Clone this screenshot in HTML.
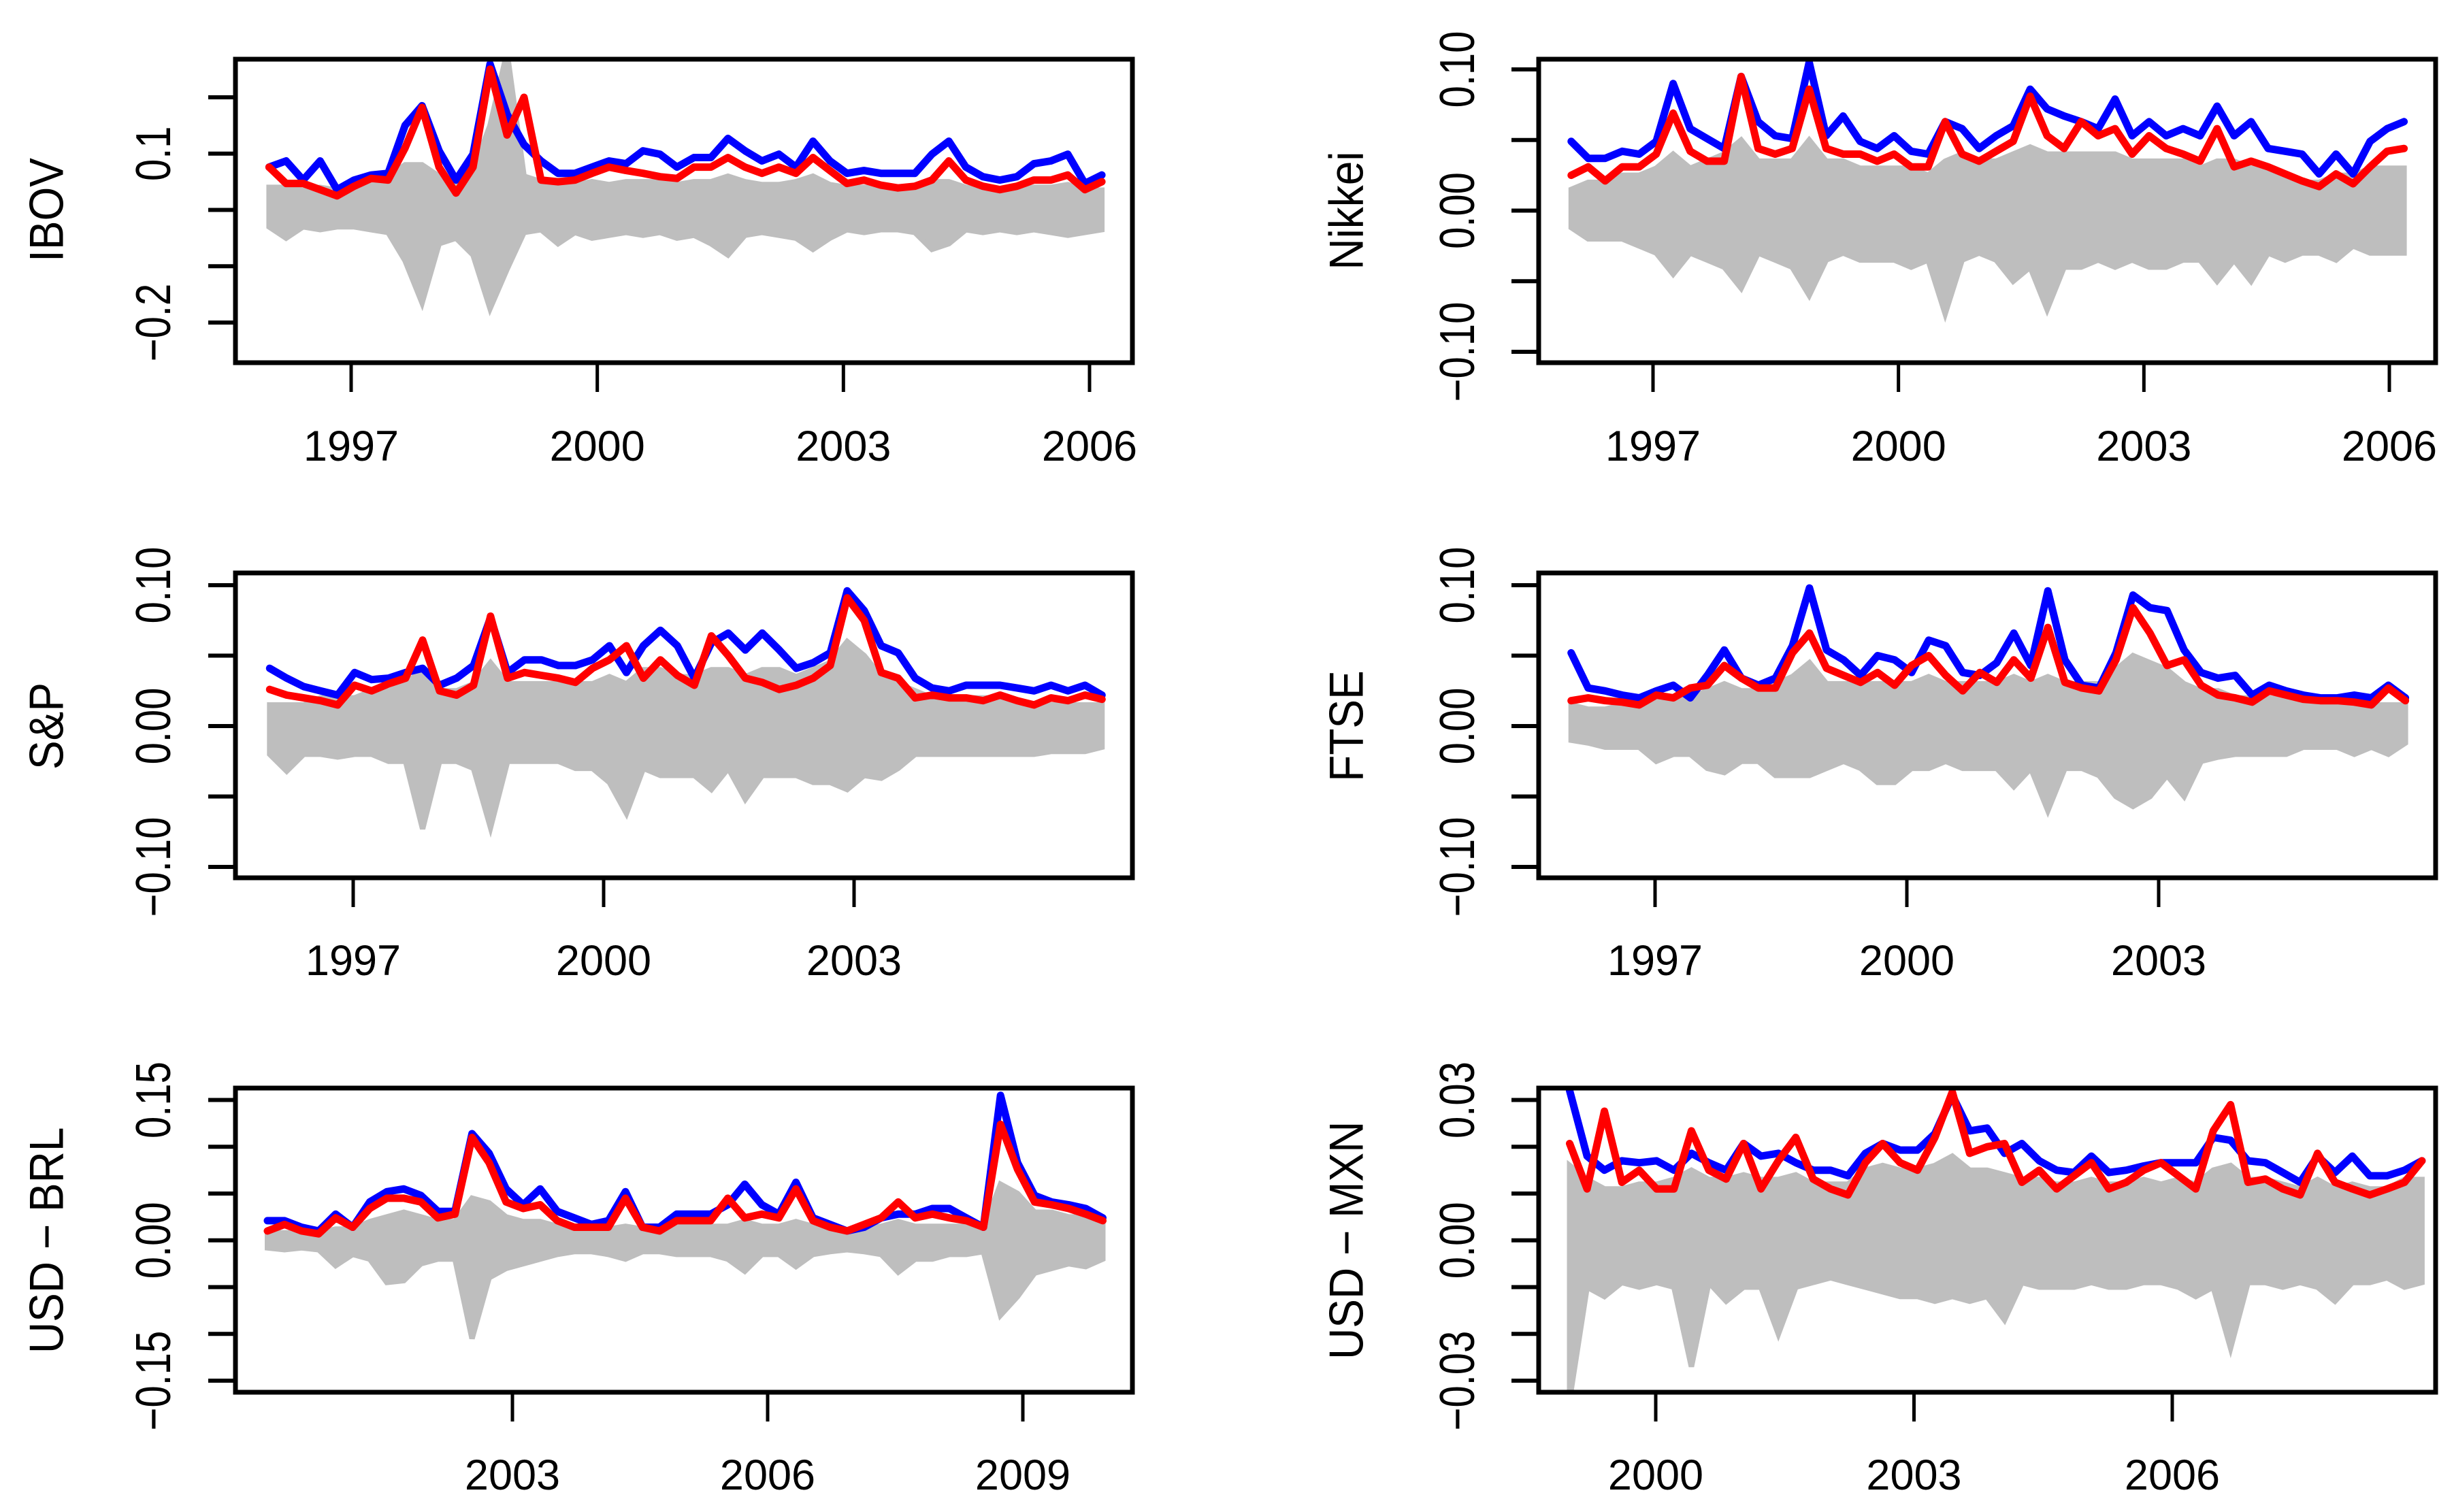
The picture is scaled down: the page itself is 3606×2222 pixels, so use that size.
<!DOCTYPE html>
<html><head><meta charset="utf-8"><style>
html,body{margin:0;padding:0;background:#fff}
svg{display:block}
text{font-family:"Liberation Sans",sans-serif;fill:#000}
</style></head><body>
<svg id="chart" xmlns="http://www.w3.org/2000/svg" width="3606" height="2222" viewBox="0 0 3606 2222"></svg>
<script>
// ---- IBOV ----
const ibovBlue=[0.076,0.087,0.053,0.087,0.036,0.053,0.062,0.065,0.150,0.185,0.105,0.053,0.099,0.259,0.170,0.116,0.087,0.065,0.065,0.076,0.087,0.082,0.105,0.099,0.076,0.093,0.093,0.127,0.105,0.087,0.099,0.076,0.122,0.087,0.065,0.070,0.065,0.065,0.065,0.099,0.122,0.076,0.059,0.053,0.059,0.082,0.087,0.099,0.047,0.062];
const ibovRed=[0.076,0.047,0.047,0.036,0.025,0.042,0.056,0.053,0.110,0.182,0.076,0.030,0.076,0.250,0.133,0.200,0.053,0.050,0.053,0.065,0.076,0.070,0.065,0.059,0.056,0.076,0.076,0.093,0.076,0.065,0.076,0.065,0.093,0.070,0.047,0.053,0.044,0.039,0.042,0.053,0.087,0.053,0.042,0.036,0.042,0.053,0.053,0.062,0.036,0.050];
const ibovHi=[0.04,0.04,0.035,0.04,0.035,0.04,0.045,0.06,0.08,0.08,0.06,0.05,0.07,0.15,0.28,0.06,0.05,0.045,0.045,0.05,0.045,0.05,0.05,0.05,0.045,0.05,0.05,0.06,0.05,0.045,0.045,0.05,0.06,0.045,0.04,0.04,0.04,0.04,0.04,0.05,0.05,0.04,0.035,0.035,0.035,0.04,0.04,0.045,0.035,0.035];
const ibovLo=[-0.03,-0.05,-0.03,-0.035,-0.03,-0.03,-0.035,-0.04,-0.09,-0.165,-0.06,-0.05,-0.08,-0.175,-0.105,-0.04,-0.035,-0.06,-0.04,-0.05,-0.045,-0.04,-0.045,-0.04,-0.05,-0.045,-0.06,-0.08,-0.045,-0.04,-0.045,-0.05,-0.07,-0.05,-0.035,-0.04,-0.035,-0.035,-0.04,-0.07,-0.06,-0.035,-0.04,-0.035,-0.04,-0.035,-0.04,-0.045,-0.04,-0.035];
// ---- Nikkei ----
const nkBlue=[0.049,0.037,0.037,0.042,0.040,0.049,0.090,0.058,0.051,0.044,0.095,0.063,0.053,0.051,0.105,0.053,0.067,0.049,0.044,0.053,0.042,0.040,0.063,0.058,0.044,0.053,0.060,0.086,0.072,0.067,0.063,0.058,0.079,0.053,0.063,0.053,0.058,0.053,0.074,0.053,0.063,0.044,0.042,0.040,0.026,0.040,0.026,0.049,0.058,0.063];
const nkRed=[0.025,0.031,0.021,0.031,0.031,0.040,0.069,0.042,0.035,0.035,0.095,0.044,0.040,0.044,0.086,0.044,0.040,0.040,0.035,0.040,0.031,0.031,0.063,0.040,0.035,0.042,0.049,0.081,0.053,0.044,0.063,0.053,0.058,0.040,0.053,0.044,0.040,0.035,0.058,0.031,0.035,0.031,0.026,0.021,0.017,0.026,0.019,0.031,0.042,0.044];
const nkHi=[0.015,0.02,0.02,0.025,0.025,0.03,0.04,0.03,0.035,0.04,0.05,0.035,0.035,0.035,0.05,0.035,0.035,0.03,0.03,0.03,0.03,0.025,0.035,0.04,0.035,0.035,0.04,0.045,0.04,0.04,0.04,0.04,0.04,0.035,0.035,0.035,0.035,0.03,0.035,0.035,0.03,0.03,0.025,0.02,0.02,0.025,0.025,0.03,0.03,0.03];
const nkLo=[-0.012,-0.02,-0.02,-0.02,-0.025,-0.03,-0.045,-0.03,-0.035,-0.04,-0.055,-0.03,-0.035,-0.04,-0.06,-0.035,-0.03,-0.035,-0.035,-0.035,-0.04,-0.035,-0.073,-0.035,-0.03,-0.035,-0.05,-0.04,-0.07,-0.04,-0.04,-0.035,-0.04,-0.035,-0.04,-0.04,-0.035,-0.035,-0.05,-0.035,-0.05,-0.03,-0.035,-0.03,-0.03,-0.035,-0.025,-0.03,-0.03,-0.03];
// ---- S&P ----
const spBlue=[0.041,0.034,0.028,0.025,0.022,0.038,0.033,0.034,0.038,0.041,0.029,0.034,0.043,0.077,0.038,0.047,0.047,0.043,0.043,0.047,0.057,0.038,0.057,0.068,0.057,0.034,0.059,0.066,0.054,0.066,0.054,0.041,0.045,0.052,0.096,0.082,0.057,0.052,0.034,0.027,0.025,0.029,0.029,0.029,0.027,0.025,0.029,0.025,0.029,0.022];
const spRed=[0.026,0.022,0.020,0.018,0.015,0.029,0.025,0.030,0.034,0.061,0.025,0.022,0.029,0.078,0.034,0.038,0.036,0.034,0.031,0.041,0.047,0.057,0.034,0.047,0.036,0.029,0.064,0.050,0.034,0.031,0.026,0.029,0.034,0.043,0.091,0.075,0.038,0.034,0.020,0.022,0.020,0.020,0.018,0.022,0.018,0.015,0.020,0.018,0.022,0.019];
const spHi=[0.015,0.015,0.015,0.02,0.02,0.02,0.025,0.025,0.03,0.04,0.025,0.025,0.03,0.045,0.03,0.03,0.03,0.03,0.03,0.03,0.035,0.03,0.04,0.04,0.035,0.035,0.04,0.04,0.035,0.04,0.04,0.035,0.04,0.045,0.06,0.05,0.035,0.03,0.025,0.02,0.02,0.02,0.02,0.02,0.015,0.015,0.015,0.015,0.015,0.015];
const spLo=[-0.02,-0.032,-0.02,-0.02,-0.022,-0.02,-0.02,-0.025,-0.025,-0.073,-0.025,-0.025,-0.03,-0.072,-0.025,-0.025,-0.025,-0.025,-0.03,-0.03,-0.04,-0.062,-0.03,-0.035,-0.035,-0.035,-0.045,-0.03,-0.052,-0.035,-0.035,-0.035,-0.04,-0.04,-0.045,-0.035,-0.037,-0.03,-0.02,-0.02,-0.02,-0.02,-0.02,-0.02,-0.02,-0.02,-0.018,-0.018,-0.018,-0.015];
// ---- FTSE ----
const ftBlue=[0.052,0.027,0.025,0.022,0.020,0.025,0.029,0.020,0.036,0.054,0.034,0.029,0.034,0.057,0.098,0.054,0.047,0.036,0.050,0.047,0.038,0.061,0.057,0.038,0.036,0.045,0.066,0.043,0.096,0.047,0.029,0.027,0.052,0.093,0.084,0.082,0.054,0.038,0.034,0.036,0.022,0.029,0.025,0.022,0.020,0.020,0.022,0.020,0.029,0.020];
const ftRed=[0.018,0.020,0.018,0.017,0.015,0.022,0.020,0.027,0.029,0.043,0.034,0.027,0.027,0.052,0.066,0.041,0.036,0.031,0.038,0.029,0.043,0.050,0.036,0.025,0.038,0.031,0.047,0.034,0.070,0.031,0.027,0.025,0.047,0.084,0.066,0.043,0.047,0.029,0.022,0.020,0.017,0.025,0.022,0.019,0.018,0.018,0.017,0.015,0.027,0.018];
const ftHi=[0.015,0.012,0.012,0.015,0.015,0.018,0.02,0.02,0.025,0.03,0.025,0.025,0.03,0.035,0.045,0.03,0.03,0.03,0.03,0.03,0.03,0.035,0.03,0.03,0.03,0.03,0.035,0.03,0.035,0.03,0.03,0.03,0.04,0.05,0.045,0.04,0.03,0.025,0.025,0.02,0.02,0.02,0.018,0.015,0.015,0.015,0.015,0.015,0.015,0.015];
const ftLo=[-0.01,-0.012,-0.015,-0.015,-0.015,-0.025,-0.02,-0.02,-0.03,-0.033,-0.025,-0.025,-0.035,-0.035,-0.035,-0.03,-0.025,-0.03,-0.04,-0.04,-0.03,-0.03,-0.025,-0.03,-0.03,-0.03,-0.043,-0.03,-0.06,-0.03,-0.03,-0.035,-0.05,-0.057,-0.05,-0.035,-0.05,-0.025,-0.022,-0.02,-0.02,-0.02,-0.02,-0.015,-0.015,-0.015,-0.02,-0.015,-0.02,-0.012];
// ---- USD-BRL ----
const brlBlue=[0.021,0.021,0.014,0.010,0.028,0.014,0.041,0.052,0.055,0.048,0.031,0.031,0.114,0.093,0.055,0.038,0.055,0.031,0.024,0.017,0.021,0.052,0.014,0.014,0.028,0.028,0.028,0.038,0.060,0.038,0.028,0.062,0.024,0.017,0.010,0.014,0.024,0.028,0.028,0.034,0.034,0.024,0.014,0.155,0.083,0.048,0.041,0.038,0.034,0.024];
const brlRed=[0.010,0.017,0.010,0.007,0.024,0.014,0.034,0.045,0.045,0.041,0.024,0.028,0.110,0.083,0.041,0.034,0.038,0.021,0.014,0.014,0.014,0.045,0.014,0.010,0.021,0.021,0.021,0.045,0.024,0.028,0.024,0.055,0.021,0.014,0.010,0.017,0.024,0.041,0.024,0.028,0.024,0.021,0.014,0.124,0.076,0.041,0.038,0.034,0.028,0.021];
const brlHi=[0.008,0.008,0.008,0.008,0.012,0.012,0.02,0.025,0.03,0.025,0.02,0.02,0.045,0.04,0.025,0.02,0.02,0.015,0.012,0.012,0.012,0.015,0.012,0.012,0.015,0.015,0.015,0.015,0.02,0.015,0.015,0.02,0.015,0.012,0.01,0.012,0.015,0.02,0.015,0.015,0.015,0.015,0.012,0.06,0.05,0.03,0.03,0.025,0.025,0.02];
const brlLo=[-0.008,-0.01,-0.008,-0.01,-0.027,-0.015,-0.02,-0.045,-0.043,-0.025,-0.02,-0.02,-0.105,-0.04,-0.03,-0.025,-0.02,-0.015,-0.012,-0.012,-0.015,-0.02,-0.012,-0.012,-0.015,-0.015,-0.015,-0.02,-0.033,-0.015,-0.015,-0.028,-0.015,-0.012,-0.01,-0.012,-0.015,-0.034,-0.02,-0.02,-0.015,-0.015,-0.012,-0.08,-0.06,-0.035,-0.03,-0.025,-0.028,-0.02];
// ---- USD-MXN ----
const mxnBlue=[0.032,0.018,0.015,0.017,0.0166,0.017,0.015,0.0186,0.0166,0.015,0.0207,0.018,0.0186,0.0166,0.015,0.015,0.0138,0.0186,0.0207,0.0193,0.0193,0.0228,0.031,0.0234,0.024,0.0186,0.0207,0.017,0.015,0.0145,0.018,0.0145,0.015,0.0159,0.0166,0.0166,0.0166,0.022,0.0214,0.017,0.0166,0.0145,0.0124,0.018,0.0145,0.018,0.0138,0.0138,0.015,0.017];
const mxnRed=[0.0207,0.011,0.0276,0.0124,0.015,0.011,0.011,0.0234,0.015,0.0131,0.0207,0.011,0.017,0.022,0.0131,0.011,0.0097,0.0166,0.0207,0.0166,0.015,0.022,0.0317,0.0186,0.02,0.0207,0.0124,0.015,0.011,0.0138,0.0166,0.011,0.0124,0.015,0.0166,0.0138,0.011,0.0234,0.029,0.0124,0.0131,0.011,0.0097,0.0186,0.0124,0.011,0.0097,0.011,0.0124,0.017];
const mxnHi=[0.016,0.013,0.011,0.011,0.012,0.012,0.013,0.015,0.013,0.013,0.014,0.013,0.013,0.014,0.012,0.012,0.012,0.015,0.016,0.015,0.015,0.016,0.018,0.015,0.015,0.014,0.013,0.013,0.012,0.012,0.013,0.012,0.012,0.013,0.012,0.013,0.012,0.015,0.016,0.013,0.013,0.012,0.011,0.013,0.011,0.012,0.011,0.011,0.013,0.013];
const mxnLo=[-0.034,-0.01,-0.012,-0.009,-0.01,-0.009,-0.01,-0.027,-0.009,-0.013,-0.01,-0.01,-0.02,-0.01,-0.009,-0.008,-0.009,-0.01,-0.011,-0.012,-0.012,-0.013,-0.012,-0.013,-0.012,-0.017,-0.009,-0.01,-0.01,-0.01,-0.009,-0.01,-0.01,-0.009,-0.009,-0.01,-0.012,-0.01,-0.023,-0.009,-0.009,-0.01,-0.009,-0.01,-0.013,-0.009,-0.009,-0.008,-0.01,-0.009];

// tick definitions
const ibovYTicks=[0.2,0.1,0,-0.1,-0.2], ibovYLabels=["","0.1","","","\u22120.2"];
const stdYTicks=[0.1,0.05,0,-0.05,-0.1], stdYLabels=["0.10","","0.00","","\u22120.10"];
const brlYTicks=[0.15,0.1,0.05,0,-0.05,-0.1,-0.15], brlYLabels=["0.15","","","0.00","","","\u22120.15"];
const mxnYTicks=[0.03,0.02,0.01,0,-0.01,-0.02,-0.03], mxnYLabels=["0.03","","","0.00","","","\u22120.03"];
const yearsA=[1997,2000,2003,2006], yearsB=[1997,2000,2003], yearsC=[2003,2006,2009], yearsD=[2000,2003,2006];

const NS="http://www.w3.org/2000/svg";
const svg=document.getElementById('chart');
function mk(tag,attrs,parent){const e=document.createElementNS(NS,tag);for(const k in attrs)e.setAttribute(k,attrs[k]);(parent||svg).appendChild(e);return e;}

const panels=[
 {key:'ibov',title:'IBOV',L:346,R:1664,T:87,B:533,x0:1997,px0:516,x1:2006,px1:1601,t0:1996.0,t1:2006.15,yz:308.5,k:827.5,blue:ibovBlue,red:ibovRed,hi:ibovHi,lo:ibovLo,yt:ibovYTicks,yl:ibovYLabels,years:yearsA,tlx:225,ttx:69,yearY:677},
 {key:'nikkei',title:'Nikkei',L:2261,R:3579,T:87,B:533,x0:1997,px0:2429,x1:2006,px1:3511,t0:1996.0,t1:2006.18,yz:309.5,k:2075,blue:nkBlue,red:nkRed,hi:nkHi,lo:nkLo,yt:stdYTicks,yl:stdYLabels,years:yearsA,tlx:2141,ttx:1979,yearY:677},
 {key:'sp',title:'S&P',L:346,R:1664,T:842,B:1290,x0:1997,px0:519,x1:2003,px1:1255,t0:1996.0,t1:2005.97,yz:1067,k:2070,blue:spBlue,red:spRed,hi:spHi,lo:spLo,yt:stdYTicks,yl:stdYLabels,years:yearsB,tlx:225,ttx:69,yearY:1433},
 {key:'ftse',title:'FTSE',L:2261,R:3579,T:842,B:1290,x0:1997,px0:2432,x1:2003,px1:3172,t0:1996.0,t1:2005.94,yz:1067,k:2070,blue:ftBlue,red:ftRed,hi:ftHi,lo:ftLo,yt:stdYTicks,yl:stdYLabels,years:yearsB,tlx:2141,ttx:1979,yearY:1433},
 {key:'usd-brl',title:'USD \u2212 BRL',L:346,R:1664,T:1599,B:2046,x0:2003,px0:753,x1:2009,px1:1503,t0:2000.12,t1:2009.94,yz:1822.8,k:1375,blue:brlBlue,red:brlRed,hi:brlHi,lo:brlLo,yt:brlYTicks,yl:brlYLabels,years:yearsC,tlx:225,ttx:69,yearY:2189},
 {key:'usd-mxn',title:'USD \u2212 MXN',L:2261,R:3579,T:1599,B:2046,x0:2000,px0:2433,x1:2006,px1:3192,t0:1999.0,t1:2008.9,yz:1822.8,k:6875,blue:mxnBlue,red:mxnRed,hi:mxnHi,lo:mxnLo,yt:mxnYTicks,yl:mxnYLabels,years:yearsD,tlx:2141,ttx:1979,yearY:2189}
];

panels.forEach((p,pi)=>{
  const g=mk('g',{});
  
  
  const xs=t=>p.px0+(t-p.x0)*(p.px1-p.px0)/(p.x1-p.x0);
  const ys=v=>p.yz-v*p.k;
  const tAt=(i,n)=>p.t0+(p.t1-p.t0)*i/(n-1);
  const cid='clip'+pi;
  const cp=mk('clipPath',{id:cid},g);
  mk('rect',{x:p.L,y:p.T,width:p.R-p.L,height:p.B-p.T},cp);
  const plot=mk('g',{'clip-path':'url(#'+cid+')'},g);
  const n=p.hi.length;let d='';
  for(let i=0;i<n;i++){d+=(i?'L':'M')+xs(tAt(i,n)).toFixed(1)+','+ys(p.hi[i]).toFixed(1);}
  for(let i=n-1;i>=0;i--){d+='L'+xs(tAt(i,n)).toFixed(1)+','+ys(p.lo[i]).toFixed(1);}
  d+='Z';
  const gr=mk('path',{d:d,fill:'#bebebe',stroke:'#bebebe','stroke-width':8,'stroke-linejoin':'miter'},plot);
  
  
  [['blue',p.blue,'#0000ff'],['red',p.red,'#ff0000']].forEach(([nm,arr,col])=>{
    let dd='';const m=arr.length;
    for(let i=0;i<m;i++){dd+=(i?'L':'M')+xs(tAt(i,m)).toFixed(1)+','+ys(arr[i]).toFixed(1);}
    const ln=mk('path',{d:dd,fill:'none',stroke:col,'stroke-width':11,'stroke-linejoin':'round','stroke-linecap':'round'},plot);
    
    
  });
  const box=mk('rect',{x:p.L,y:p.T,width:p.R-p.L,height:p.B-p.T,fill:'none',stroke:'#000','stroke-width':7},g);
  
  
  p.yt.forEach((v,i)=>{
    const y=ys(v);
    const tk=mk('line',{x1:p.L-40,x2:p.L,y1:y,y2:y,stroke:'#000','stroke-width':6},g);
    
    
    if(p.yl[i]){
      const tx=mk('text',{transform:'translate('+p.tlx+','+y+') rotate(-90) scale(1,1.25)','text-anchor':'middle','dominant-baseline':'central','font-size':58},g);
      tx.textContent=p.yl[i];
      
      
    }
  });
  p.years.forEach(yr=>{
    const x=xs(yr);
    const tk=mk('line',{x1:x,x2:x,y1:p.B+3,y2:p.B+43,stroke:'#000','stroke-width':5},g);
    
    
    const tx=mk('text',{x:x,y:p.yearY,'text-anchor':'middle','font-size':63},g);
    tx.textContent=String(yr);
    
    
  });
  const tt=mk('text',{transform:'translate('+p.ttx+','+p.yz+') rotate(-90) scale(1,1.1)','text-anchor':'middle','dominant-baseline':'central','font-size':64},g);
  tt.textContent=p.title;
  
  
});
</script>
</body></html>
